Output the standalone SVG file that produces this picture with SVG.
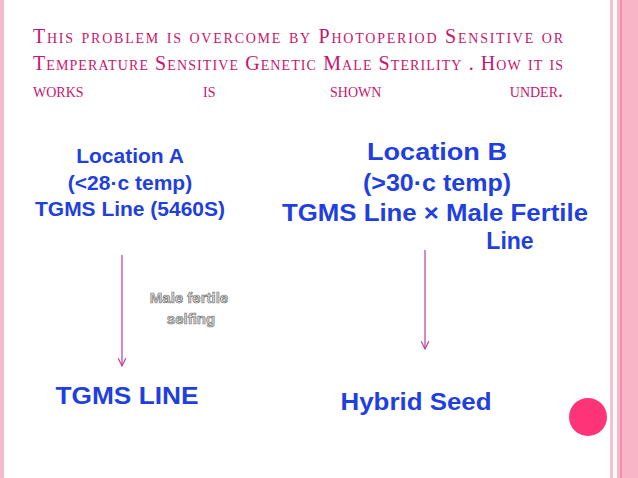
<svg xmlns="http://www.w3.org/2000/svg" width="638" height="478" viewBox="0 0 638 478">
<style>
.t{font-family:"Liberation Serif",serif;font-variant:small-caps;fill:#C8156B;font-size:20px}
.b{font-family:"Liberation Sans",Arial,sans-serif;font-weight:bold;fill:#1F3FE0;text-anchor:middle}
.s{font-family:"Liberation Sans",Arial,sans-serif;font-weight:bold;fill:#d8d8d8;stroke:#7a7a7a;stroke-width:0.7;text-anchor:middle;font-size:15px}
.a{stroke:#C03A9A;stroke-width:1.2;fill:none}
</style>
<defs><marker id="m" viewBox="0 0 10 10" refX="9" refY="5" markerWidth="8" markerHeight="8" orient="auto"><path d="M1,1 L9,5 L1,9" fill="none" stroke="#C03A9A" stroke-width="1.2"/></marker></defs>
<rect width="638" height="478" fill="#fff"/>
<rect x="0" y="0" width="4" height="478" fill="#F6B8CB"/>
<rect x="610" y="0" width="3" height="478" fill="#F7C0D0"/>
<rect x="617" y="0" width="21" height="478" fill="#F9B5C8"/>
<rect x="620" y="0" width="2" height="478" fill="#EE8FAE"/>
<circle cx="588" cy="417" r="19" fill="#FF3378"/>
<g id="title">
<text class="t" x="33" y="43" textLength="530" lengthAdjust="spacing">This problem is overcome by Photoperiod Sensitive or</text>
<text class="t" x="33" y="70" textLength="530" lengthAdjust="spacing">Temperature Sensitive Genetic Male Sterility . How it is</text>
<text class="t" x="33" y="97">works</text>
<text class="t" x="203" y="97">is</text>
<text class="t" x="330" y="97">shown</text>
<text class="t" x="563" y="97" text-anchor="end">under.</text>
</g>
<g id="locA">
<text class="b" x="130" y="163" font-size="21">Location  A</text>
<text class="b" x="130" y="190" font-size="21">(&lt;28·c temp)</text>
<text class="b" x="130" y="216" font-size="21" textLength="190" lengthAdjust="spacingAndGlyphs">TGMS Line (5460S)</text>
</g>
<g id="locB">
<text class="b" x="437" y="160" font-size="23" textLength="140" lengthAdjust="spacingAndGlyphs">Location  B</text>
<text class="b" x="437" y="191" font-size="23" textLength="148" lengthAdjust="spacingAndGlyphs">(&gt;30·c temp)</text>
<text class="b" x="435" y="221" font-size="23" textLength="306" lengthAdjust="spacingAndGlyphs">TGMS Line  ×  Male Fertile</text>
<text class="b" x="510" y="249" font-size="23">Line</text>
</g>
<g id="selfing">
<text class="s" x="189" y="303">Male fertile</text>
<text class="s" x="191" y="324">selfing</text>
</g>
<g id="tgms"><text class="b" x="127" y="404" font-size="23" textLength="143" lengthAdjust="spacingAndGlyphs">TGMS  LINE</text></g>
<g id="hybrid"><text class="b" x="416" y="410" font-size="23" textLength="151" lengthAdjust="spacingAndGlyphs">Hybrid  Seed</text></g>
<g id="connectors">
<line class="a" x1="122" y1="255" x2="122" y2="366" marker-end="url(#m)"/>
<line class="a" x1="425" y1="250" x2="425" y2="349" marker-end="url(#m)"/>
</g>
</svg>
